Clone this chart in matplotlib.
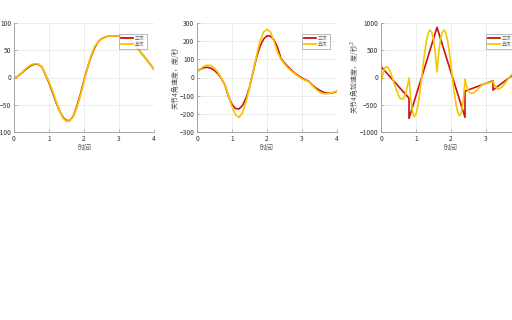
import matplotlib
matplotlib.use("Agg")
import matplotlib.pyplot as plt

plt.rcParams['font.family'] = ['Noto Sans CJK SC', 'DejaVu Sans']

# ---------------- data ----------------
t01 = [0.0, 0.1, 0.2, 0.3, 0.4, 0.5, 0.6, 0.7, 0.8, 0.9, 1.0, 1.1, 1.2, 1.3, 1.4,
       1.5, 1.6, 1.7, 1.8, 1.9, 2.0, 2.1, 2.2, 2.3, 2.4, 2.5, 2.6, 2.7, 2.8, 2.9,
       3.0, 3.1, 3.2, 3.3, 3.4, 3.5, 3.6, 3.7, 3.8, 3.9, 4.0]

pos_cubic = [-2, 2, 7, 13, 18, 22.5, 24.5, 24, 19, 5, -10, -27, -45, -61, -73,
             -79, -79, -70, -52, -30, -5, 18, 38, 54, 65, 71, 74, 76, 76.5, 76.5,
             76, 75, 73, 69, 63, 56, 48, 40, 32, 23.5, 15]
pos_quintic = [-2, 2, 7.5, 14, 19.5, 24, 25.5, 24.5, 19, 5.5, -8, -24, -43, -61, -74.5,
               -80.5, -79, -71, -54.5, -33, -7, 18, 40, 56, 65, 70.5, 74, 76, 76.5, 76.5,
               76, 75, 73, 69, 63, 56, 48, 40, 32, 23.5, 15]

vel_cubic = [33, 46, 54, 56, 51, 39, 20, -7, -42, -104, -148, -171, -173, -154, -114,
             -54, 28, 110, 171, 211, 229, 228, 207, 166, 104, 80, 59, 40, 23, 9,
             -3, -13, -22, -42, -58, -70, -80, -86, -87, -83, -76]
vel_quintic = [30, 48, 62, 68, 66, 52, 28, -5, -42, -100, -160, -205, -220, -195, -135,
               -55, 28, 120, 200, 250, 265, 250, 200, 140, 100, 75, 52, 35, 20, 5,
               -8, -16, -24, -45, -65, -80, -88, -90, -87, -81, -75]

acc_cubic_t = [0.0, 0.8, 0.8, 1.6, 2.4, 2.4, 3.2, 3.2, 4.0]
acc_cubic = [200, -380, -750, 920, -730, -250, -60, -230, 160]

t005 = [0.0, 0.05, 0.1, 0.15, 0.2, 0.25, 0.3, 0.35, 0.4, 0.45, 0.5, 0.55, 0.6, 0.65,
        0.7, 0.75, 0.8, 0.85, 0.9, 0.95, 1.0, 1.05, 1.1, 1.15, 1.2, 1.25, 1.3, 1.35,
        1.4, 1.45, 1.5, 1.55, 1.6, 1.65, 1.7, 1.75, 1.8, 1.85, 1.9, 1.95, 2.0, 2.05,
        2.1, 2.15, 2.2, 2.25, 2.3, 2.35, 2.4, 2.45, 2.5, 2.55, 2.6, 2.65, 2.7, 2.75,
        2.8, 2.85, 2.9, 2.95, 3.0, 3.05, 3.1, 3.15, 3.2, 3.25, 3.3, 3.35, 3.4, 3.45,
        3.5, 3.55, 3.6, 3.65, 3.7, 3.75, 3.8, 3.85, 3.9, 3.95, 4.0]
acc_quintic = [-90, 60, 165, 200, 185, 130, 40, -50, -150, -250, -330, -385, -400, -375,
               -300, -175, -10, -390, -630, -720, -672, -534, -322, -63, 213, 472, 684, 822,
               870, 830, 700, 460, 100, 460, 700, 830, 870, 823, 686, 477, 221, -51,
               -307, -516, -653, -700, -640, -420, -30, -180, -250, -285, -290, -280, -255, -225,
               -190, -160, -135, -115, -105, -100, -95, -85, -65, -150, -195, -210, -200, -175,
               -140, -100, -55, -10, 30, 65, 95, 115, 125, 120, 100]

labels = ['三次', '五次']
xlabel = '时间'
ylabels = [None, '关节4角速度，度/秒', '关节4角加速度，度/秒$^2$']
ylims = [(-100, 100), (-300, 300), (-1000, 1000)]
yticks = [[-100, -50, 0, 50, 100],
          [-300, -200, -100, 0, 100, 200, 300],
          [-1000, -500, 0, 500, 1000]]
xticks = [0, 1, 2, 3, 4]

# ---------------- styling ----------------
RED = '#CC1111'
YEL = '#F5C800'
W, H = 512, 320
fig = plt.figure(figsize=(W / 100, H / 100), dpi=100)
lefts = [14, 197, 381]
axw, axh = 140, 109
top = 23

series = [
    ((t01, pos_cubic), (t01, pos_quintic)),
    ((t01, vel_cubic), (t01, vel_quintic)),
    ((acc_cubic_t, acc_cubic), (t005, acc_quintic)),
]

for i in range(3):
    ax = fig.add_axes([lefts[i] / W, (H - top - axh) / H, axw / W, axh / H])
    (xr, yr), (xy, yy) = series[i]
    ax.plot(xr, yr, color=RED, lw=1.2, label=labels[0])
    ax.plot(xy, yy, color=YEL, lw=1.2, label=labels[1])
    ax.set_xlim(0, 4)
    ax.set_ylim(*ylims[i])
    ax.set_xticks(xticks)
    ax.set_yticks(yticks[i])
    ax.grid(True, color='#e6e6e6', lw=0.5)
    ax.set_axisbelow(True)
    for s in ['top', 'right']:
        ax.spines[s].set_visible(False)
    for s in ['left', 'bottom']:
        ax.spines[s].set_color('#999999')
        ax.spines[s].set_linewidth(0.6)
    ax.tick_params(direction='in', length=2, width=0.5, colors='#999999',
                   labelsize=4.8, labelcolor='#333333', pad=2)
    ax.set_xlabel(xlabel, fontsize=5, color='#555555', labelpad=1)
    if ylabels[i]:
        ax.set_ylabel(ylabels[i], fontsize=5, color='#555555', labelpad=0)
    leg = ax.legend(loc='upper right', fontsize=3.5, frameon=True, fancybox=False,
                    handlelength=2.4, borderpad=0.35, labelspacing=0.25,
                    bbox_to_anchor=(0.965, 0.92), handletextpad=0.5)
    leg.get_frame().set_edgecolor('#888888')
    leg.get_frame().set_linewidth(0.5)
    for ln in leg.get_lines():
        ln.set_linewidth(1.3)
    for tx in leg.get_texts():
        tx.set_color('#555555')

fig.savefig('out.png', dpi=100)
